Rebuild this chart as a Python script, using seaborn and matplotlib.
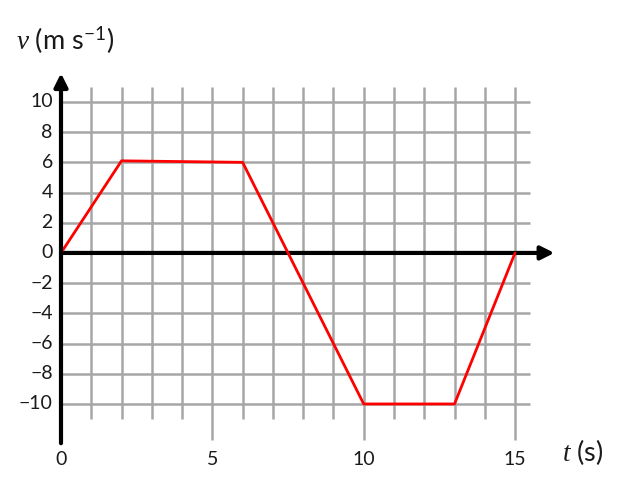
import matplotlib
matplotlib.use("Agg")
import matplotlib.pyplot as plt
import seaborn as sns
import pandas as pd
import numpy as np

# data
t_values = [0, 2, 6, 10, 13, 15]
v_values = [0, 6.1, 6.0, -10, -10, 0]
x_tick_values = [0, 5, 10, 15]
y_tick_values = [-10, -8, -6, -4, -2, 0, 2, 4, 6, 8, 10]
x_grid_values = list(range(1, 16))
y_grid_values = [-10, -8, -6, -4, -2, 2, 4, 6, 8, 10]

sns.set_style("white")
plt.rcParams['font.family'] = ['Lato', 'DejaVu Sans']
plt.rcParams['mathtext.fontset'] = 'custom'
plt.rcParams['mathtext.it'] = 'Liberation Serif:italic'
plt.rcParams['mathtext.rm'] = 'Lato'

fig = plt.figure(figsize=(6.44, 5.0), dpi=100)
ax = fig.add_axes([0, 0, 1, 1])
ax.set_xlim(-2.015, 19.26)
ax.set_ylim(-16.36, 16.75)
ax.axis('off')

grid_color = '#a6a6a6'
# vertical grid lines
for x in x_grid_values:
    bottom = -12.4 if x % 5 == 0 else -11
    ax.plot([x, x], [bottom, 11], color=grid_color, lw=1.8, zorder=1, solid_capstyle='butt')
# horizontal grid lines
for y in y_grid_values:
    ax.plot([0, 15.5], [y, y], color=grid_color, lw=1.8, zorder=1, solid_capstyle='butt')

# data line
df = pd.DataFrame({'t': t_values, 'v': v_values})
sns.lineplot(data=df, x='t', y='v', ax=ax, color='#ff0000', lw=2, zorder=4, sort=False)

# axes arrows
ax.annotate('', xy=(16.3, 0), xytext=(0, 0),
            arrowprops=dict(arrowstyle='-|>', color='black', lw=3, mutation_scale=20,
                            shrinkA=0, shrinkB=0), zorder=3)
ax.annotate('', xy=(0, 11.9), xytext=(0, -12.6),
            arrowprops=dict(arrowstyle='-|>', color='black', lw=3, mutation_scale=20,
                            shrinkA=0, shrinkB=0), zorder=5)

# tick labels
for y in y_tick_values:
    lab = str(y).replace('-', '\u2212')
    ax.text(-0.27, y, lab, ha='right', va='center', fontsize=14, color='#1a1a1a')
for x in x_tick_values:
    ax.text(x, -13.1, str(x), ha='center', va='top', fontsize=14, color='#1a1a1a')

# axis titles
ax.text(-1.5, 14.1, r'$v$ (m s$^{\mathrm{-1}}$)', ha='left', va='center', fontsize=19.5, color='#1a1a1a')
ax.text(16.55, -13.2, r'$t$ (s)', ha='left', va='center', fontsize=19.5, color='#1a1a1a')

fig.savefig('out.png', dpi=100)
